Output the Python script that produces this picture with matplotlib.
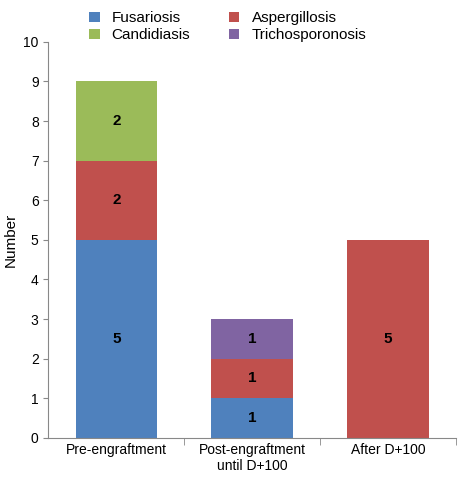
import matplotlib
matplotlib.use("Agg")
import matplotlib.pyplot as plt
import numpy as np

categories = ["Pre-engraftment", "Post-engraftment\nuntil D+100", "After D+100"]
series = ["Fusariosis", "Aspergillosis", "Candidiasis", "Trichosporonosis"]
fusariosis = [5, 1, 0]
aspergillosis = [2, 1, 5]
candidiasis = [2, 0, 0]
trichosporonosis = [0, 1, 0]
colors = ["#4F81BD", "#C0504D", "#9BBB59", "#8064A2"]

plt.rcParams['font.family'] = ['Liberation Sans', 'DejaVu Sans']
fig = plt.figure(figsize=(4.74, 4.86), dpi=100)
ax = fig.add_axes([0.102, 0.099, 0.86, 0.815])
x = np.arange(len(categories))
bottom = np.zeros(len(categories))
handles = []
for name, vals, c in zip(series, [fusariosis, aspergillosis, candidiasis, trichosporonosis], colors):
    vals = np.array(vals, dtype=float)
    b = ax.bar(x, vals, 0.6, bottom=bottom, color=c, label=name)
    handles.append(b)
    for xi, v, bt in zip(x, vals, bottom):
        if v > 0:
            ax.text(xi, bt + v / 2, f"{int(v)}", ha='center', va='center', fontsize=11, fontweight='bold')
    bottom += vals

ax.set_xlim(-0.5, 2.5)
ax.set_ylim(0, 10)
ax.set_yticks(range(0, 11))
ax.set_xticks(x)
ax.set_xticklabels(categories, fontsize=10)
ax.set_xticks([0.5, 1.5, 2.5], minor=True)
ax.tick_params(axis='x', which='major', length=0)
ax.tick_params(axis='x', which='minor', length=5, color='#888888')
ax.tick_params(axis='y', labelsize=10, color='#888888')
ax.set_ylabel("Number", fontsize=11)
for s in ['top', 'right']:
    ax.spines[s].set_visible(False)
ax.spines['left'].set_color('#888888')
ax.spines['bottom'].set_color('#888888')
order = [0, 2, 1, 3]
fig.legend([handles[i] for i in order], [series[i] for i in order], loc='upper center',
           bbox_to_anchor=(0.48, 1.005), ncol=2,
           frameon=False, fontsize=11, handlelength=0.7, handleheight=0.7,
           columnspacing=2.5, labelspacing=0.2)
fig.savefig("out.png", dpi=100)
